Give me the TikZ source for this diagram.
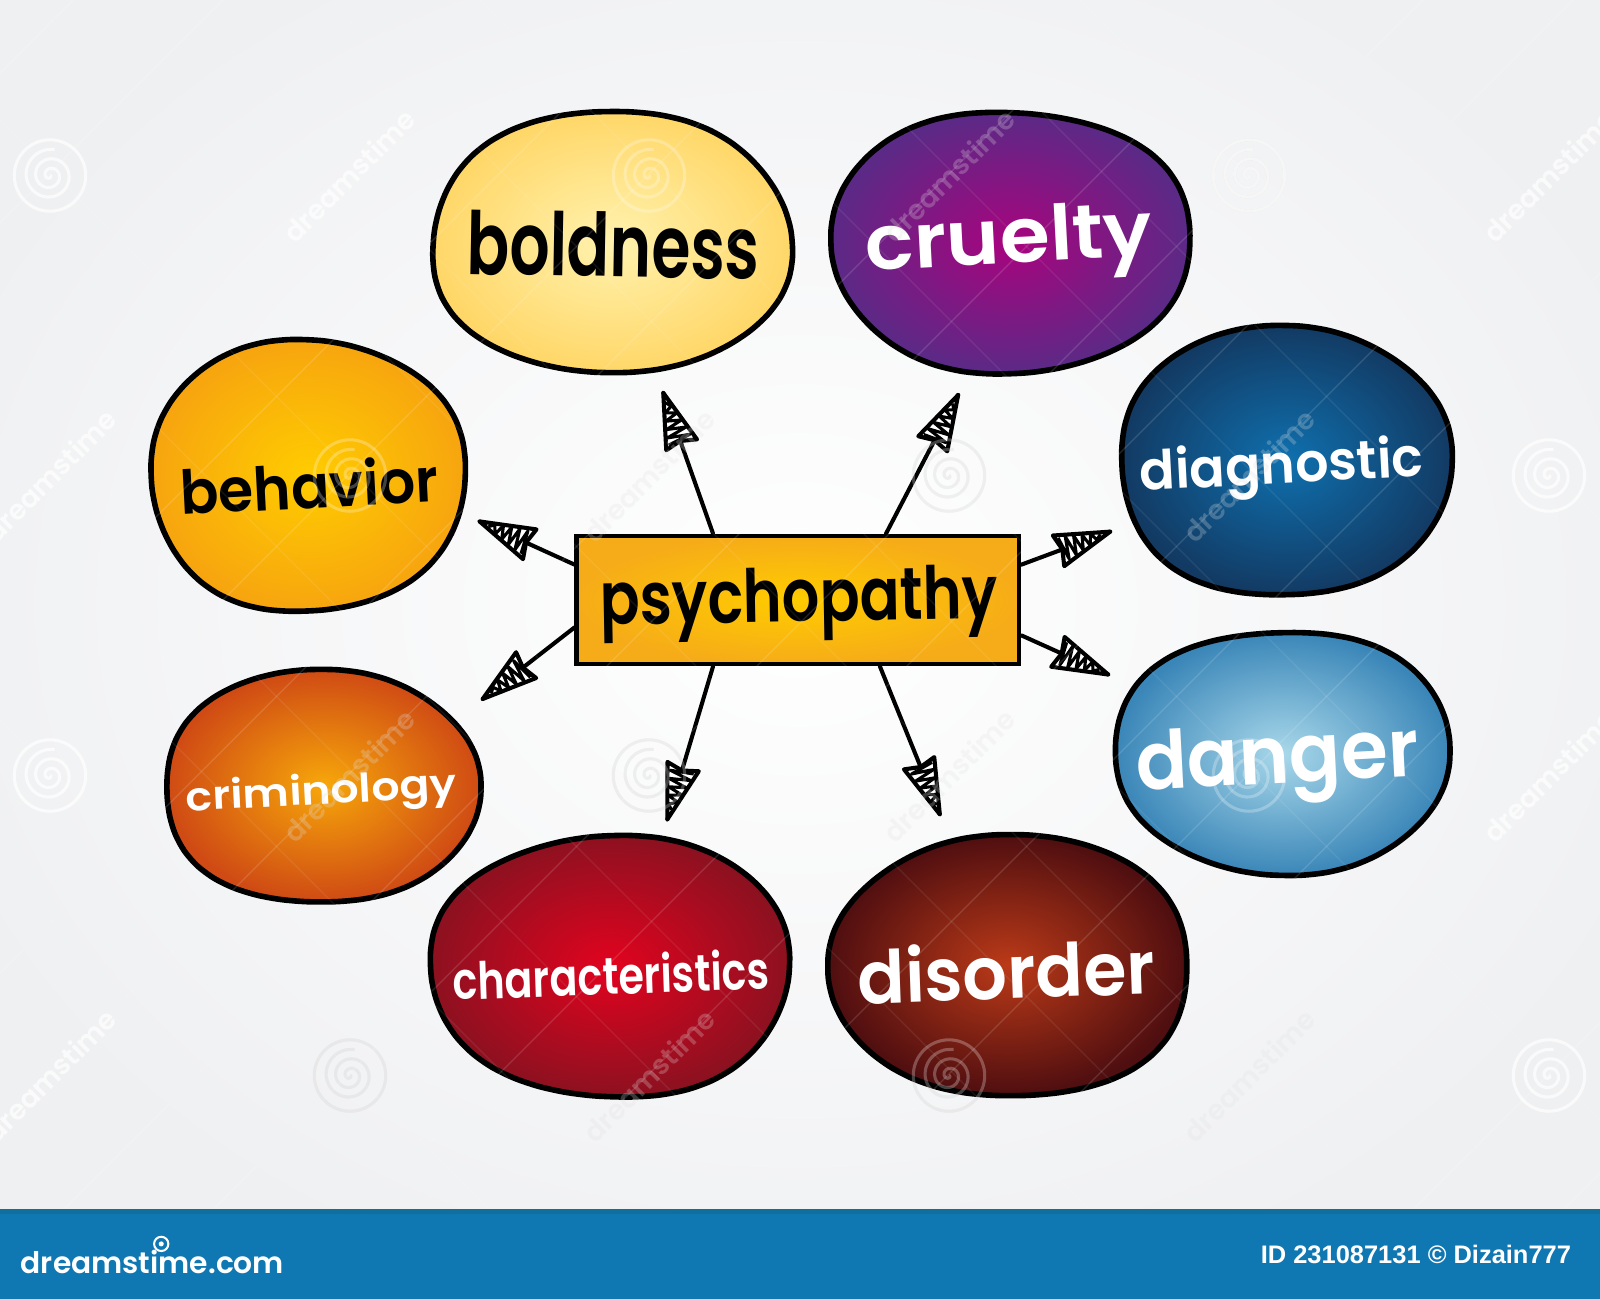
\documentclass[tikz,border=0pt]{standalone}
\usepackage{fontspec}
\usepackage{graphicx}
\setmainfont{Poppins}[BoldFont={Poppins SemiBold}]
\usetikzlibrary{calc}
\newlength{\ulen}\setlength{\ulen}{0.5102pt}
\definecolor{bgedge}{HTML}{EFF0F2}
\definecolor{foot}{HTML}{0F77B1}
\definecolor{footd}{HTML}{116F9E}
\definecolor{wmpale}{HTML}{E0E0E2}
\definecolor{psyin}{HTML}{FFCC00}
\definecolor{psyout}{HTML}{F6AC18}
\definecolor{boldin}{HTML}{FFF2AE}
\definecolor{boldout}{HTML}{FFD768}
\definecolor{cruin}{HTML}{A8047E}
\definecolor{cruout}{HTML}{5B2A86}
\definecolor{diain}{HTML}{0F70AE}
\definecolor{diaout}{HTML}{123A63}
\definecolor{danin}{HTML}{A9D8EA}
\definecolor{danout}{HTML}{3A86B8}
\definecolor{disin}{HTML}{BB3A18}
\definecolor{disout}{HTML}{4F0E10}
\definecolor{chain}{HTML}{E2031F}
\definecolor{chaout}{HTML}{8C1120}
\definecolor{crimin}{HTML}{F7A70A}
\definecolor{crimout}{HTML}{CF4A14}
\definecolor{behin}{HTML}{FFCC00}
\definecolor{behout}{HTML}{F7A50F}
\tikzset{
  x=\ulen, y=-\ulen,
  blobline/.style={draw=black, line width=5.5\ulen, line join=round},
  conn/.style={draw=black, line width=4\ulen, line cap=round},
  headline/.style={draw=black, line width=4\ulen, line join=round, fill=white},
  scrib/.style={draw=black, line width=3\ulen, line join=round},
  lbl/.style={inner sep=0pt, font=\bfseries},
  wmtext/.style={inner sep=0pt, rotate=45, font=\bfseries},
}
% cx cy rx ry inner outer phase
\newcommand{\blob}[7]{%
  \shade[blobline, inner color=#5, outer color=#6]
    plot[smooth cycle, domain=4.5:355.5, samples=40, variable=\t]
    ({#1+#3*cos(\t)*pow(abs(cos(\t)),-0.07)*(1+0.012*sin(3*\t+#7)+0.007*sin(5*\t+2*#7))},
     {#2+#4*sin(\t)*pow(abs(sin(\t)),-0.07)*(1+0.012*sin(3*\t+#7)+0.007*sin(5*\t+2*#7))});
}
% start tip
\newcommand{\hd}[2]{%
  \draw[conn] (#1) -- (#2);
  \path let \p1=($(#2)-(#1)$), \n1={atan2(\y1,\x1)} in \pgfextra{\xdef\hdang{\n1}};
  \begin{scope}[shift={(#2)}, rotate=\hdang]
    \draw[headline] (0,0) -- (-54,-16) -- (-50,0) -- (-54,16) -- cycle;
    \draw[scrib] (-50,-12) -- (-47,11) -- (-43,-11) -- (-39,10) -- (-35,-9) -- (-31,8) -- (-27,-7) -- (-23,6) -- (-19,-5) -- (-15,3) -- (-10,-1);
  \end{scope}
}
\newcommand{\spiral}[4]{% x y colour width
  \draw[#3, line width=#4\ulen] (#1,#2) circle[radius=35];
  \draw[#3, line width=#4\ulen] plot[smooth, domain=0:1000, samples=50, variable=\t]
    ({#1+\t/1000*26*cos(\t)},{#2+\t/1000*26*sin(\t)});
}
\begin{document}
\begin{tikzpicture}
\useasboundingbox (0,0) rectangle (1568,1273);
\fill[bgedge] (0,0) rectangle (1568,1185);
\begin{scope}
  \clip (0,0) rectangle (1568,1185);
  \shade[inner color=white, outer color=bgedge] (784,592) ellipse[x radius=900, y radius=720];
\end{scope}

% faint grey under the spirals, seen on the white middle of the sheet
\begin{scope}[opacity=0.07]
  \foreach \a/\b in {343/466,930/466,636/760,1224/760,343/1054,930/1054,636/172,1224/172}{\spiral{\a}{\b}{black}{3}}
\end{scope}

% central box
\node[draw=black, line width=4\ulen, inner sep=0pt, minimum width=434\ulen, minimum height=126\ulen,
      inner color=psyin, outer color=psyout] (psy) at (782,588) {};

% arrow tips
\coordinate (tbold) at (650,385);
\coordinate (tcru) at (939,387);
\coordinate (tbeh) at (470,511);
\coordinate (tcrim) at (473,685);
\coordinate (tcha) at (654,803);
\coordinate (tdis) at (921,798);
\coordinate (tdia) at (1088,521);
\coordinate (tdan) at (1086,661);

\hd{psy.142}{tbold}
\hd{psy.37}{tcru}
\hd{psy.171.6}{tbeh}
\hd{psy.187}{tcrim}
\hd{psy.218.6}{tcha}
\hd{psy.321}{tdis}
\hd{psy.9.4}{tdia}
\hd{psy.351.8}{tdan}

% blobs
\blob{599}{238}{176}{128}{boldin}{boldout}{20}
\blob{990}{237}{176}{128}{cruin}{cruout}{140}
\blob{1259}{452}{162}{132}{diain}{diaout}{80}
\blob{1257}{737}{164}{119}{danin}{danout}{200}
\blob{990}{947}{176}{128}{disin}{disout}{300}
\blob{599}{947}{176}{128}{chain}{chaout}{250}
\blob{315}{771}{154}{114}{crimin}{crimout}{60}
\blob{301}{466}{154}{133}{behin}{behout}{110}

% labels
\node[lbl, text=black, rotate=1] (psylabel) at (783,592) {\resizebox*{390\ulen}{72\ulen}{psychopathy}};
\node[lbl, text=black, rotate=-1] (boldness) at (601,240) {\resizebox*{287\ulen}{64\ulen}{boldness}};
\node[lbl, text=white, rotate=3] (cruelty) at (989,240) {\resizebox*{282\ulen}{75\ulen}{cruelty}};
\node[lbl, text=white, rotate=3] (diagnostic) at (1256,460) {\resizebox*{278\ulen}{56\ulen}{diagnostic}};
\node[lbl, text=white, rotate=3] (danger) at (1252,749) {\resizebox*{277\ulen}{80\ulen}{danger}};
\node[lbl, text=white, rotate=2] (disorder) at (986,951) {\resizebox*{291\ulen}{57\ulen}{disorder}};
\node[lbl, text=white, rotate=2] (characteristics) at (599,955) {\resizebox*{310\ulen}{40\ulen}{characteristics}};
\node[lbl, text=white, rotate=3] (criminology) at (315,778) {\resizebox*{265\ulen}{41\ulen}{criminology}};
\node[lbl, text=black, rotate=3] (behavior) at (303,475) {\resizebox*{253\ulen}{47\ulen}{behavior}};

% watermark laid over everything
\begin{scope}
  \clip (0,0) rectangle (1568,1185);
  \begin{scope}[opacity=0.14]
    \foreach \c in {0,...,18}{\draw[white, line width=1.2\ulen] ({71.5+147*\c},0) -- ({71.5+147*\c-1185},1185);}
  \end{scope}
  \begin{scope}[opacity=0.08]
    \foreach \c in {0,...,18}{\draw[white, line width=1.2\ulen] ({29.4-1176+147*\c},0) -- ({29.4-1176+147*\c+1185},1185);}
  \end{scope}
  \begin{scope}[opacity=0.26]
    \foreach \a/\b in {636/172,343/466,930/466,636/760,1224/760,343/1054,930/1054}{\spiral{\a}{\b}{white}{3}}
    \foreach \a/\b in {930/172,636/466,1224/466,342/760,930/760,636/1054,1224/1054}{
      \node[wmtext, text=wmpale] at (\a,\b) {\resizebox{170\ulen}{!}{dreamstime}};}
  \end{scope}
  \begin{scope}[opacity=0.7]
    \foreach \a/\b in {49/172,1224/172,1518/466,49/760,1518/1054}{\spiral{\a}{\b}{white}{3}}
    \foreach \a/\b in {342/172,1518/172,49/466,49/1054,1518/760}{
      \node[wmtext, text=white] at (\a,\b) {\resizebox{170\ulen}{!}{dreamstime}};}
  \end{scope}
\end{scope}

% footer
\fill[foot] (0,1185) rectangle (1568,1273);
\fill[footd] (0,1185) rectangle (1568,1190);
\node[inner sep=0pt, anchor=west, text=white, font=\bfseries] (brand) at (20,1237) {\resizebox{258\ulen}{!}{dreamstime.com}};
\draw[white, line width=2\ulen] (158,1219) circle[radius=7];
\fill[white] (158,1219) circle[radius=2.5];
\node[inner sep=0pt, anchor=east, text=white, font=\bfseries] (credit) at (1540,1229)
  {\resizebox{304\ulen}{18\ulen}{\fontspec{Liberation Sans}ID 231087131 © Dizain777}};
\end{tikzpicture}
\end{document}
